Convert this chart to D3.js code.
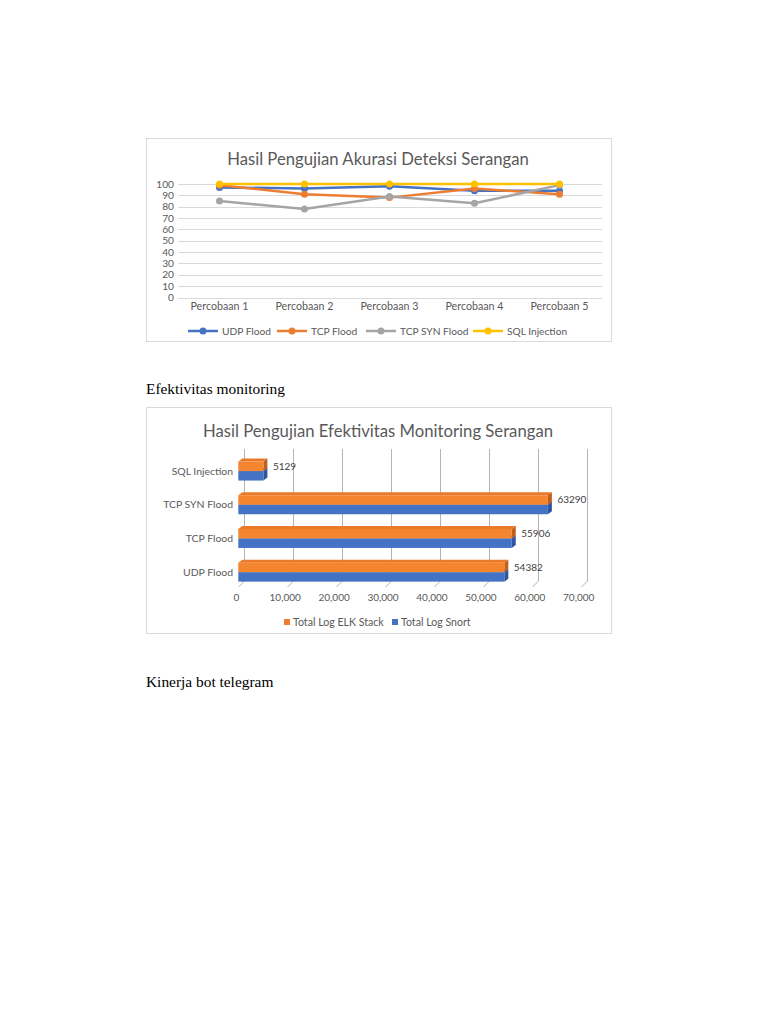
<!DOCTYPE html>
<html>
<head>
<meta charset="utf-8">
<script src="https://cdn.jsdelivr.net/npm/d3@7"></script>
<style>
  body { margin: 0; background: #fff; }
  svg { display: block; }
</style>
</head>
<body>
<svg id="page"></svg>
<script>
// line chart data
const trials = ["Percobaan 1", "Percobaan 2", "Percobaan 3", "Percobaan 4", "Percobaan 5"]
const seriesNames = ["UDP Flood", "TCP Flood", "TCP SYN Flood", "SQL Injection"]
const udpFlood = [97, 96, 98, 94, 94]
const tcpFlood = [99, 91, 88, 96, 91]
const tcpSynFlood = [85, 78, 89, 83, 99]
const sqlInjection = [100, 100, 100, 100, 100]
const yTicks = [0, 10, 20, 30, 40, 50, 60, 70, 80, 90, 100]

// bar chart data
const attacks = ["SQL Injection", "TCP SYN Flood", "TCP Flood", "UDP Flood"]
const logElk = [5129, 63290, 55906, 54382]
const logSnort = [5129, 63290, 55906, 54382]
const barLegend = ["Total Log ELK Stack", "Total Log Snort"]
const xTicks = [0, 10000, 20000, 30000, 40000, 50000, 60000, 70000]

const colors = ["#4472C4", "#ED7D31", "#A5A5A5", "#FFC000"]
const textColor = "#595959"
const font = "Lato, 'Open Sans', sans-serif"

var svg = d3.select("#page")
  .attr("width", 768)
  .attr("height", 1024)

// body text
svg.append("text")
  .attr("x", 146).attr("y", 394)
  .style("font-family", "'Liberation Serif', serif")
  .style("font-size", "15.4px")
  .text("Efektivitas monitoring")

svg.append("text")
  .attr("x", 146).attr("y", 687)
  .style("font-family", "'Liberation Serif', serif")
  .style("font-size", "15.4px")
  .text("Kinerja bot telegram")

// ---------- line chart ----------
var lc = svg.append("g")

lc.append("rect")
  .attr("x", 146.5).attr("y", 138.5)
  .attr("width", 465).attr("height", 203)
  .attr("fill", "#fff").attr("stroke", "#d9d9d9")

lc.append("text")
  .attr("x", 378).attr("y", 165)
  .attr("text-anchor", "middle")
  .style("font-family", font).style("font-size", "16.7px")
  .style("fill", textColor)
  .text("Hasil Pengujian Akurasi Deteksi Serangan")

var xLine = d3.scaleBand()
  .domain(trials)
  .range([177, 602])

var yLine = d3.scaleLinear()
  .domain([0, 100])
  .range([297.5, 184])

lc.selectAll(".grid")
  .data(yTicks)
  .enter()
  .append("line")
  .attr("x1", 178).attr("x2", 602)
  .attr("y1", d => Math.round(yLine(d)) + 0.5)
  .attr("y2", d => Math.round(yLine(d)) + 0.5)
  .attr("stroke", "#d9d9d9")

lc.selectAll(".ylab")
  .data(yTicks)
  .enter()
  .append("text")
  .attr("x", 174)
  .attr("y", d => yLine(d) + 3.5)
  .attr("text-anchor", "end")
  .style("font-family", font).style("font-size", "10.2px")
  .style("fill", textColor)
  .text(d => d)

lc.selectAll(".xlab")
  .data(trials)
  .enter()
  .append("text")
  .attr("x", d => xLine(d) + xLine.bandwidth() / 2)
  .attr("y", 310)
  .attr("text-anchor", "middle")
  .style("font-family", font).style("font-size", "10.7px")
  .style("fill", textColor)
  .text(d => d)

var allSeries = [udpFlood, tcpFlood, tcpSynFlood, sqlInjection]

var line = d3.line()
  .x((d, i) => xLine(trials[i]) + xLine.bandwidth() / 2)
  .y(d => yLine(d))

allSeries.forEach(function(values, s) {
  var g = lc.append("g")
  g.append("path")
    .datum(values)
    .attr("fill", "none")
    .attr("stroke", colors[s])
    .attr("stroke-width", 2.5)
    .attr("d", line)
  g.selectAll("circle")
    .data(values)
    .enter()
    .append("circle")
    .attr("cx", (d, i) => xLine(trials[i]) + xLine.bandwidth() / 2)
    .attr("cy", d => yLine(d))
    .attr("r", 3.5)
    .attr("fill", colors[s])
})

// legend
var legendX = [188, 277, 366, 473]
seriesNames.forEach(function(name, s) {
  var lx = legendX[s]
  lc.append("line")
    .attr("x1", lx).attr("x2", lx + 30)
    .attr("y1", 331).attr("y2", 331)
    .attr("stroke", colors[s]).attr("stroke-width", 2.5)
  lc.append("circle")
    .attr("cx", lx + 15).attr("cy", 331).attr("r", 3.5)
    .attr("fill", colors[s])
  lc.append("text")
    .attr("x", lx + 34).attr("y", 334.5)
    .style("font-family", font).style("font-size", "10.2px")
    .style("fill", textColor)
    .text(name)
})

// ---------- bar chart ----------
var bc = svg.append("g")

bc.append("rect")
  .attr("x", 146.5).attr("y", 407.5)
  .attr("width", 465).attr("height", 226)
  .attr("fill", "#fff").attr("stroke", "#d9d9d9")

bc.append("text")
  .attr("x", 378).attr("y", 437)
  .attr("text-anchor", "middle")
  .style("font-family", font).style("font-size", "16.7px")
  .style("fill", textColor)
  .text("Hasil Pengujian Efektivitas Monitoring Serangan")

// back wall scale and front scale (3d offset)
var depthX = 6, depthY = 6
var xBack = d3.scaleLinear()
  .domain([0, 70000])
  .range([244.3, 586.7])
var xFront = d3.scaleLinear()
  .domain([0, 70000])
  .range([238.3, 580.7])

var yBar = d3.scaleBand()
  .domain(attacks)
  .range([454.2, 589])

// gridlines with 3d foot
bc.selectAll(".vgrid")
  .data(xTicks)
  .enter()
  .append("path")
  .attr("fill", "none")
  .attr("stroke", "#b4b4b4")
  .attr("d", d => {
    var x = Math.round(xBack(d)) + 0.5
    return "M" + x + ",449 L" + x + ",581 L" + (x - depthX) + "," + (581 + depthY)
  })

bc.selectAll(".xlab")
  .data(xTicks)
  .enter()
  .append("text")
  .attr("x", d => xBack(d) - 8)
  .attr("y", 601)
  .attr("text-anchor", "middle")
  .style("font-family", font).style("font-size", "10px")
  .style("fill", textColor)
  .text(d => d3.format(",")(d))

bc.selectAll(".ylab")
  .data(attacks)
  .enter()
  .append("text")
  .attr("x", 233)
  .attr("y", d => yBar(d) + yBar.bandwidth() / 2 + 3.5)
  .attr("text-anchor", "end")
  .style("font-family", font).style("font-size", "10.4px")
  .style("fill", textColor)
  .text(d => d)

// draw a 3d bar: front face, top face, side face
var bd = 4, bh = 3
function bar3d(g, value, y0, h, front, top, side) {
  var x0 = xFront(0), x1 = xFront(value)
  g.append("path")
    .attr("fill", top)
    .attr("d", "M" + x0 + "," + y0 + " L" + (x0 + bd) + "," + (y0 - bh) +
      " L" + (x1 + bd) + "," + (y0 - bh) + " L" + x1 + "," + y0 + "Z")
  g.append("path")
    .attr("fill", side)
    .attr("d", "M" + x1 + "," + y0 + " L" + (x1 + bd) + "," + (y0 - bh) +
      " L" + (x1 + bd) + "," + (y0 + h - bh) + " L" + x1 + "," + (y0 + h) + "Z")
  g.append("rect")
    .attr("x", x0).attr("y", y0)
    .attr("width", x1 - x0).attr("height", h)
    .attr("fill", front)
}

attacks.forEach(function(a, i) {
  var c = yBar(a) + yBar.bandwidth() / 2
  var g = bc.append("g")
  // snort (blue) below, elk (orange) above
  bar3d(g, logSnort[i], c, 9.5, "#4472C4", "#5b86d6", "#2f55a0")
  bar3d(g, logElk[i], c - 9.5, 9.5, "#F5852F", "#E97A2A", "#C35F1A")
  bc.append("text")
    .attr("x", xFront(logElk[i]) + 9.5)
    .attr("y", c - 1.5)
    .style("font-family", font).style("font-size", "10px")
    .style("fill", "#404040")
    .text(logElk[i])
})

// bar legend
var barColors = ["#ED7D31", "#4472C4"]
var barLegendX = [284, 392]
barLegend.forEach(function(name, s) {
  bc.append("rect")
    .attr("x", barLegendX[s]).attr("y", 619)
    .attr("width", 6).attr("height", 6)
    .attr("fill", barColors[s])
  bc.append("text")
    .attr("x", barLegendX[s] + 9).attr("y", 625.5)
    .style("font-family", font).style("font-size", "10.6px")
    .style("fill", textColor)
    .text(name)
})
</script>
</body>
</html>
